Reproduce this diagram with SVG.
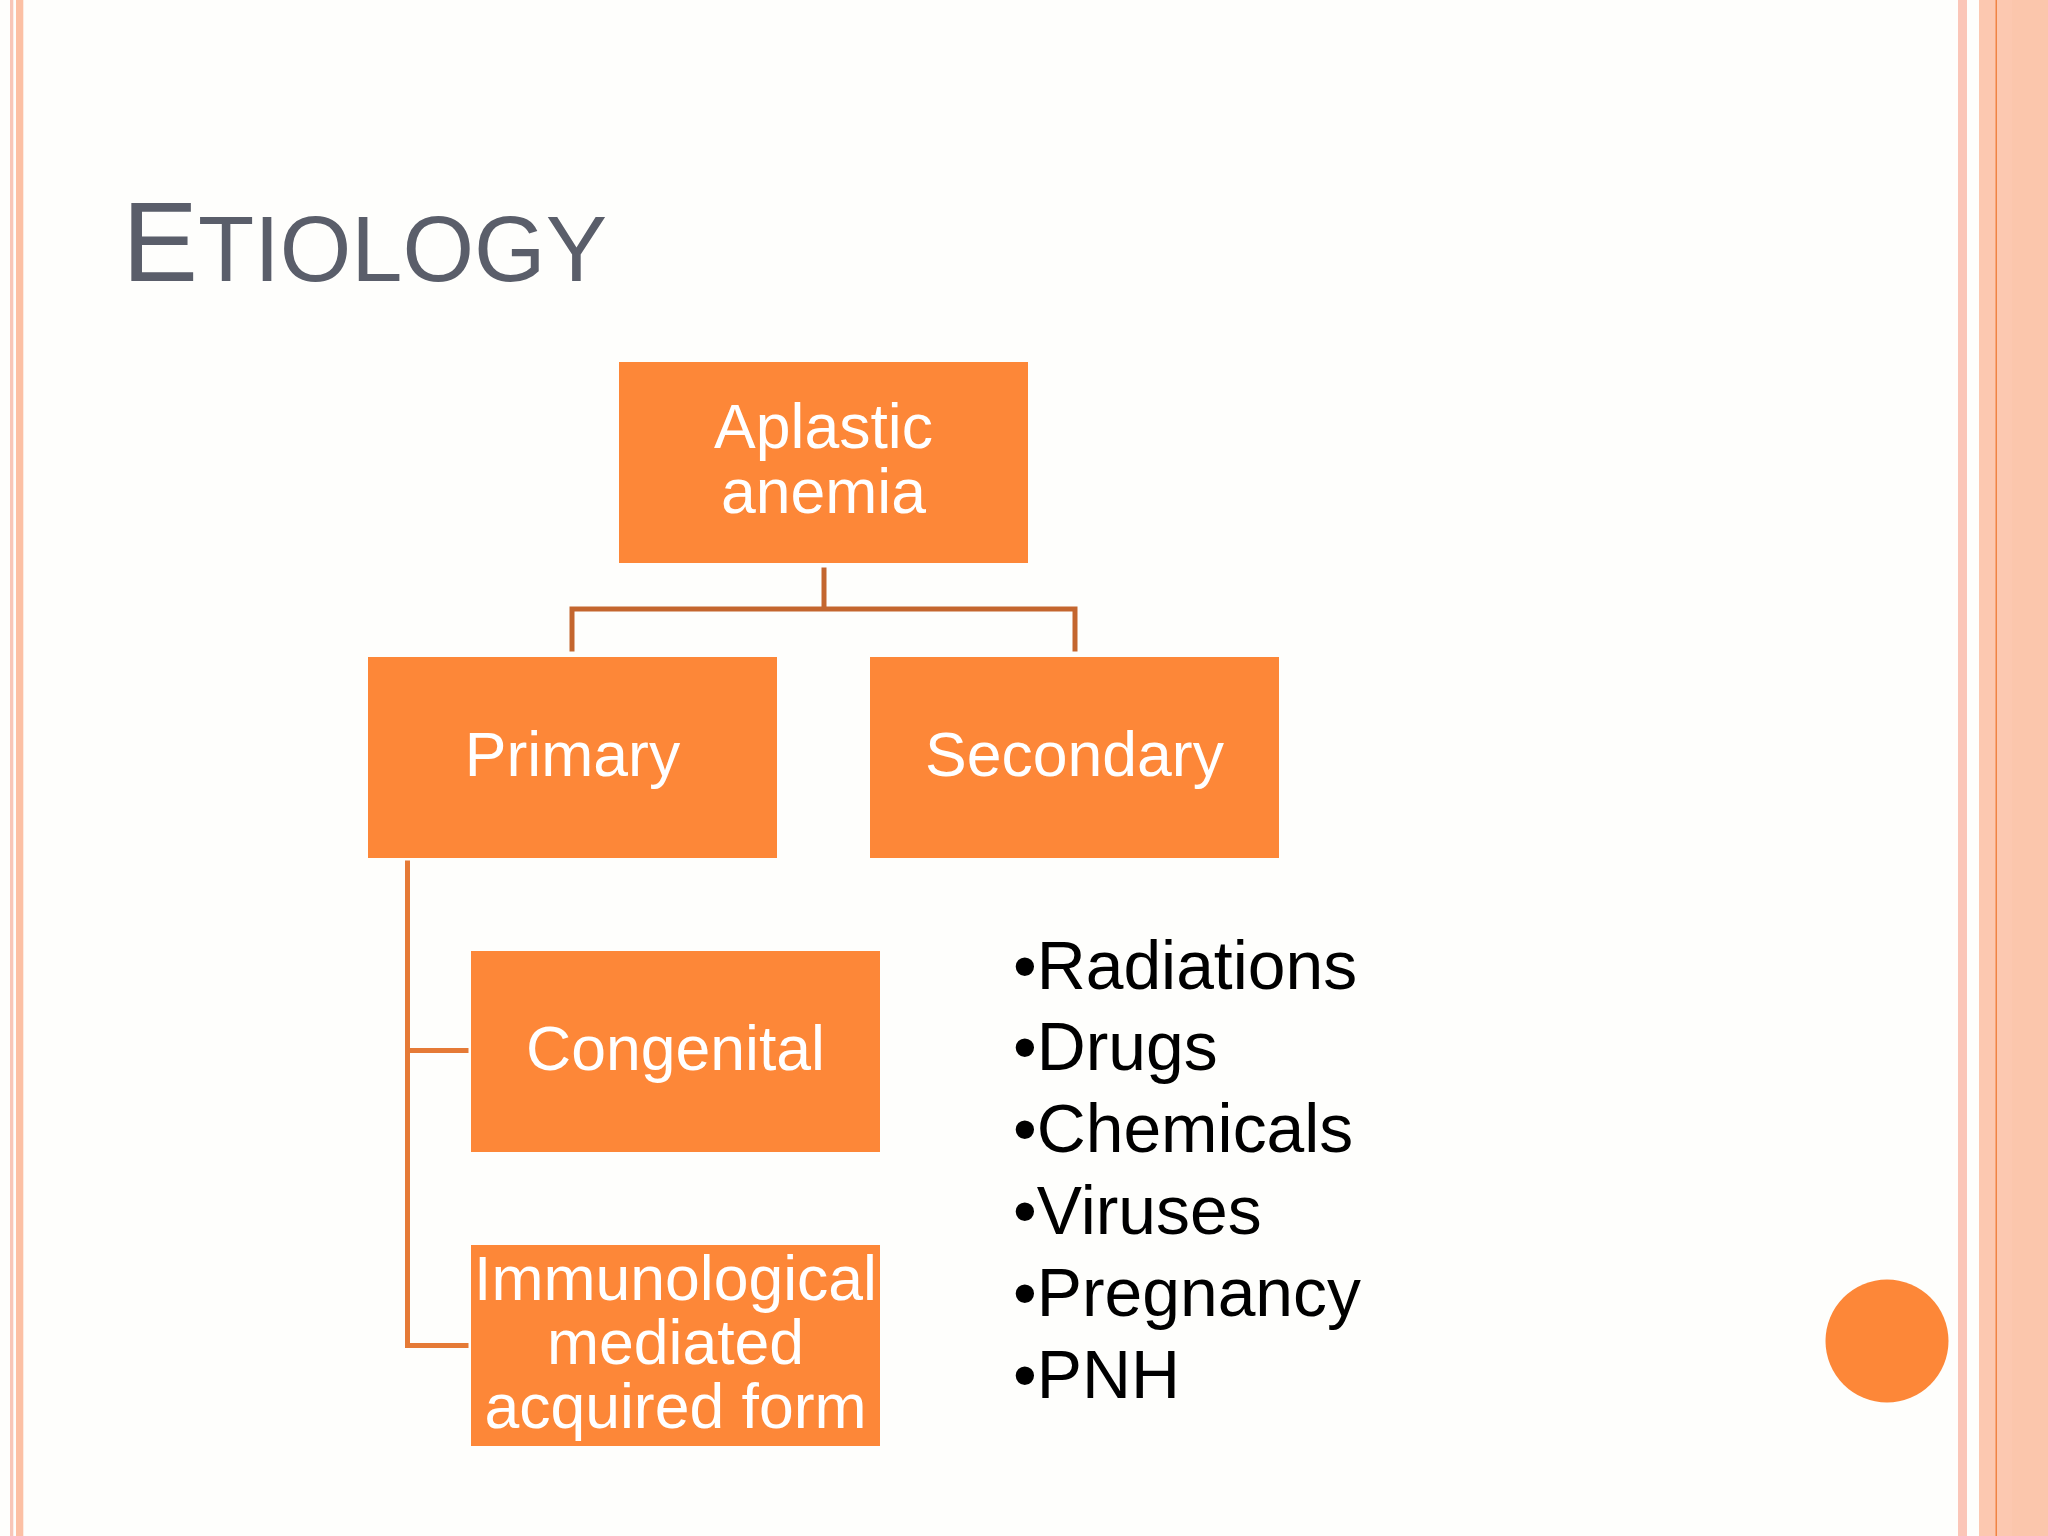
<svg xmlns="http://www.w3.org/2000/svg" width="2048" height="1536" viewBox="0 0 2048 1536">
<style>
.box{fill:#fd8738}
.lbl{font-family:"Liberation Sans",Arial,sans-serif;font-size:62.5px;fill:#ffffff;text-anchor:middle}
.bul{font-family:"Liberation Sans",Arial,sans-serif;font-size:67.8px;fill:#000000}
.title{font-family:"Liberation Sans",Arial,sans-serif;fill:#5a5e6a}
</style>
<rect x="0" y="0" width="2048" height="1536" fill="#fefefc"/>
<!-- left border -->
<rect x="10" y="0" width="3.3" height="1536" fill="#f8c6b8"/>
<rect x="16" y="0" width="7.3" height="1536" fill="#fcc0a4"/>
<!-- right border -->
<rect x="1958" y="0" width="9" height="1536" fill="#fbc6b8"/>
<rect x="1979" y="0" width="69" height="1536" fill="#fcc8b0"/>
<rect x="1995.5" y="0" width="1.5" height="1536" fill="#f08444"/>
<rect x="2012" y="0" width="36" height="1536" fill="#fbc6ac"/>
<!-- title -->
<text x="122" y="281" class="title"><tspan font-size="114">E</tspan><tspan font-size="92">TIOLOGY</tspan></text>
<!-- connectors -->
<g id="connectors" fill="none" stroke-linecap="square">
<path d="M824 570 V609 M572 649 V609 H1075 V649" stroke="#c4662e" stroke-width="5"/>
<path d="M407.5 863 V1345.5 H466 M407.5 1050.5 H466" stroke="#e57a36" stroke-width="5"/>
</g>
<g id="node-aplastic">
<rect class="box" x="619" y="362" width="409" height="201"/>
<text class="lbl" x="823.5" y="448">Aplastic</text>
<text class="lbl" x="823.5" y="513">anemia</text>
</g>
<g id="node-primary">
<rect class="box" x="368" y="657" width="409" height="201"/>
<text class="lbl" x="572.5" y="776">Primary</text>
</g>
<g id="node-secondary">
<rect class="box" x="870" y="657" width="409" height="201"/>
<text class="lbl" x="1074.5" y="776">Secondary</text>
</g>
<g id="node-congenital">
<rect class="box" x="471" y="951" width="409" height="201"/>
<text class="lbl" x="675.5" y="1070">Congenital</text>
</g>
<g id="node-immuno">
<rect class="box" x="471" y="1245" width="409" height="201"/>
<text class="lbl" x="675.5" y="1300">Immunological</text>
<text class="lbl" x="675.5" y="1364">mediated</text>
<text class="lbl" x="675.5" y="1428">acquired form</text>
</g>
<g id="secondary-list">
<text class="bul" x="1013" y="988.6">•Radiations</text>
<text class="bul" x="1013" y="1070.4">•Drugs</text>
<text class="bul" x="1013" y="1152.2">•Chemicals</text>
<text class="bul" x="1013" y="1234">•Viruses</text>
<text class="bul" x="1013" y="1315.8">•Pregnancy</text>
<text class="bul" x="1013" y="1397.6">•PNH</text>
</g>
<circle cx="1887" cy="1341" r="61.5" fill="#fd8738"/>
</svg>
